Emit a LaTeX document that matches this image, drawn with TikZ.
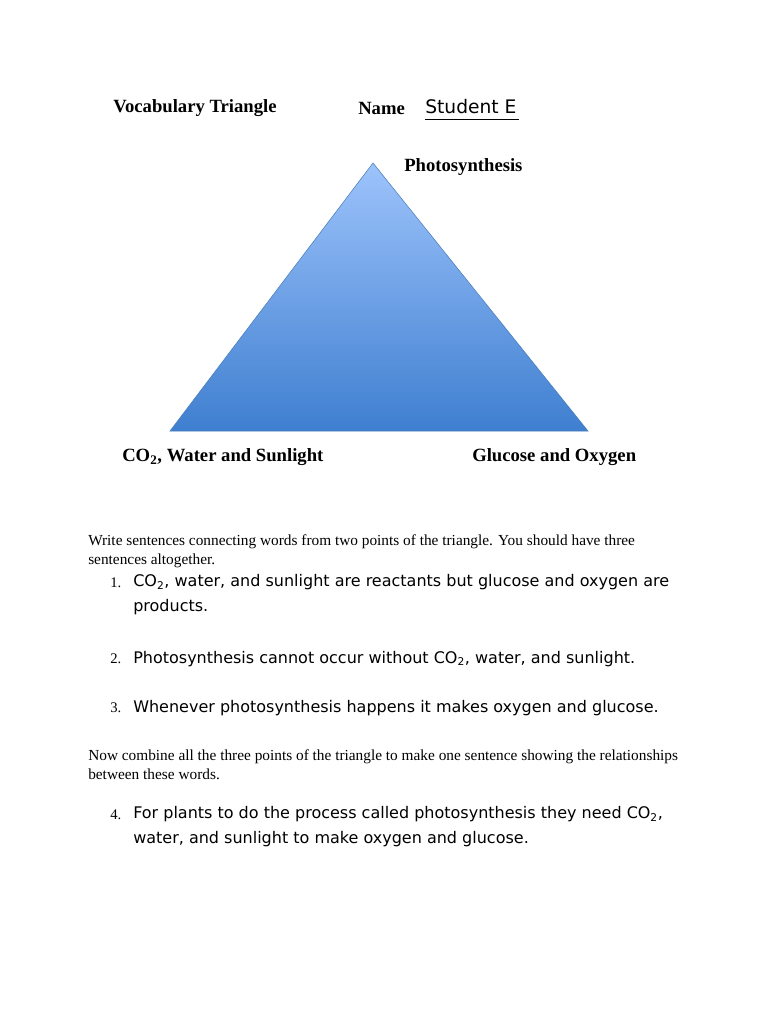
\documentclass[tikz,border=0pt]{standalone}
\usepackage{fontspec}
\setmainfont{Liberation Serif}
\newfontfamily\handfont{DejaVu Sans}
\begin{document}
\begin{tikzpicture}[x=0.75pt,y=-0.75pt,
  title node/.style={anchor=west,inner sep=0pt,font=\fontsize{14}{16}\selectfont\bfseries},
  hand node/.style={anchor=west,inner sep=0pt,align=left,font=\handfont\fontsize{12}{18.75}\selectfont},
  note node/.style={anchor=west,inner sep=0pt,align=left,font=\fontsize{11.5}{14}\selectfont},
  num node/.style={anchor=west,inner sep=0pt,font=\fontsize{11}{12}\selectfont}]

            \useasboundingbox (0,0) rectangle (768,1024);
            \fill[white] (0,0) rectangle (768,1024);

            % header
            \node[title node] (voc) at (113,108) {Vocabulary Triangle};
            \node[title node] (name) at (358,108) {Name};
            \node[anchor=west,inner sep=0pt,font=\handfont\fontsize{14}{16}\selectfont] (stud) at (425,107) {Student E};
            \draw[thin] (stud.south west) ++(0,5) -- ++(94,0);

            % triangle
            \coordinate (top) at (373,163);
            \coordinate (left) at (170,431);
            \coordinate (right) at (588,431);
            \shade[top color={rgb,255:red,157;green,195;blue,251}, bottom color={rgb,255:red,63;green,127;blue,208}]
                (top) -- (right) -- (left) -- cycle;
            \draw[thin, color={rgb,255:red,74;green,126;blue,187}] (top) -- (right) -- (left) -- cycle;

            \node[title node] (photo) at (404,167) {Photosynthesis};
            \node[title node] (reac) at (122,457) {CO\textsubscript{2}, Water and Sunlight};
            \node[title node] (prod) at (472,457) {Glucose and Oxygen};

            % sentences
            \node[note node] (ask1) at (88,551) {Write sentences connecting words from two points of the triangle. You should have three\\sentences altogether.};
            \node[num node] (n1) at (110,583) {1.};
            \node[hand node] (s1) at (133,595) {CO\textsubscript{2}, water, and sunlight are reactants but glucose and oxygen are\\products.};
            \node[num node] (n2) at (110,659) {2.};
            \node[hand node] (s2) at (133,659) {Photosynthesis cannot occur without CO\textsubscript{2}, water, and sunlight.};
            \node[num node] (n3) at (110,708) {3.};
            \node[hand node] (s3) at (133,708) {Whenever photosynthesis happens it makes oxygen and glucose.};

            \node[note node] (ask2) at (88,765) {Now combine all the three points of the triangle to make one sentence showing the relationships\\between these words.};
            \node[num node] (n4) at (110,815) {4.};
            \node[hand node] (s4) at (133,827) {For plants to do the process called photosynthesis they need CO\textsubscript{2},\\water, and sunlight to make oxygen and glucose.};
\end{tikzpicture}
\end{document}
